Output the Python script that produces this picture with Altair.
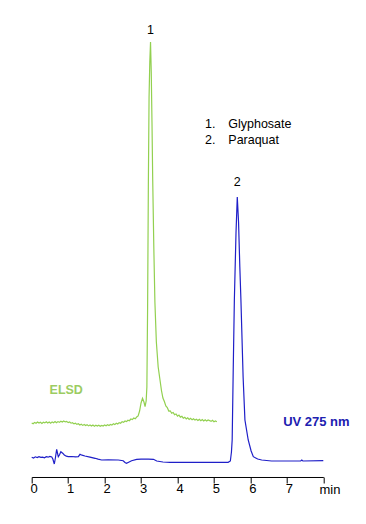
import altair as alt
import pandas as pd

# ELSD trace (time in min, detector response in arbitrary units)
elsd_t = [0.00, 0.04, 0.08, 0.12, 0.16, 0.20, 0.24, 0.28, 0.32, 0.36, 0.40, 0.44, 0.48, 0.52,
          0.56, 0.60, 0.64, 0.68, 0.72, 0.76, 0.80, 0.84, 0.88, 0.92, 0.96, 1.00, 1.04, 1.08,
          1.12, 1.16, 1.20, 1.24, 1.28, 1.32, 1.36, 1.40, 1.44, 1.48, 1.52, 1.56, 1.60, 1.64,
          1.68, 1.72, 1.76, 1.80, 1.84, 1.88, 1.92, 1.96, 2.00, 2.04, 2.08, 2.12, 2.16, 2.20,
          2.24, 2.28, 2.32, 2.36, 2.40, 2.44, 2.48, 2.52, 2.56, 2.60, 2.64, 2.68, 2.72, 2.76,
          2.80, 2.84, 2.88, 2.92, 2.96, 3.00, 3.04, 3.08, 3.11, 3.14, 3.16, 3.18, 3.20, 3.22,
          3.24, 3.26, 3.28, 3.30, 3.32, 3.35, 3.38, 3.42, 3.47, 3.52, 3.56, 3.60, 3.64, 3.68,
          3.72, 3.76, 3.80, 3.84, 3.88, 3.92, 3.96, 4.00, 4.04, 4.08, 4.12, 4.16, 4.20, 4.24,
          4.28, 4.32, 4.36, 4.40, 4.44, 4.48, 4.52, 4.56, 4.60, 4.64, 4.68, 4.72, 4.76, 4.80,
          4.84, 4.88, 4.92, 4.96, 5.00, 5.04, 5.08]
elsd_v = [54.0, 53.2, 54.6, 53.8, 55.0, 53.9, 54.8, 53.5, 54.7, 54.1, 55.2, 54.0, 54.9, 53.8,
          55.1, 54.3, 55.5, 54.2, 55.4, 54.6, 55.8, 54.9, 56.0, 55.1, 55.6, 54.4, 55.0, 53.8,
          54.3, 53.1, 53.7, 52.6, 53.2, 52.0, 52.7, 51.6, 52.5, 51.4, 52.2, 51.1, 52.0, 51.0,
          51.9, 50.8, 51.7, 50.9, 51.8, 50.7, 51.6, 50.9, 52.0, 51.2, 52.3, 51.5, 52.6, 51.9,
          53.2, 52.4, 53.7, 53.0, 54.4, 53.8, 55.3, 54.6, 56.0, 55.4, 56.8, 56.3, 58.0, 57.4,
          59.0, 58.2, 60.0, 61.0, 66.0, 74.0, 78.7, 75.0, 70.3, 76.0, 90.0, 170.0, 290.0, 380.0,
          415.0, 435.0, 405.0, 355.0, 297.0, 230.0, 175.0, 135.0, 110.0, 97.0, 86.5, 79.0, 75.5, 71.0,
          69.5, 66.0, 66.2, 63.8, 64.5, 62.3, 63.0, 60.8, 61.9, 59.9, 60.7, 58.8, 59.8, 58.1,
          59.2, 57.6, 58.7, 57.2, 58.3, 56.9, 57.8, 56.5, 57.6, 56.3, 57.4, 56.1, 57.2, 55.9,
          57.0, 56.4, 55.6, 56.7, 55.3, 56.1, 55.3]

# UV 275 nm trace
uv_t = [0.00, 0.05, 0.10, 0.15, 0.20, 0.25, 0.30, 0.35, 0.40, 0.45, 0.50, 0.55, 0.58, 0.62,
        0.65, 0.685, 0.71, 0.73, 0.76, 0.80, 0.85, 0.895, 0.95, 1.00, 1.10, 1.20, 1.28, 1.325,
        1.38, 1.46, 1.60, 1.74, 1.82, 1.92, 2.10, 2.375, 2.51, 2.56, 2.60, 2.66, 2.74, 2.88,
        3.00, 3.20, 3.34, 3.43, 3.60, 3.79, 4.20, 4.60, 5.00, 5.39, 5.45, 5.48, 5.50, 5.53,
        5.56, 5.605, 5.64, 5.675, 5.71, 5.74, 5.80, 5.85, 5.94, 6.02, 6.08, 6.20, 6.31, 6.58,
        7.00, 7.38, 7.41, 7.44, 8.00]
uv_v = [19.7, 19.0, 20.2, 19.5, 20.4, 19.6, 19.9, 19.2, 20.3, 19.8, 20.5, 20.0, 18.0, 13.0,
        19.0, 27.7, 23.5, 20.3, 22.0, 25.3, 23.8, 22.0, 20.8, 20.3, 20.5, 20.2, 20.3, 22.7,
        21.8, 21.0, 19.8, 18.7, 17.8, 17.0, 17.2, 17.0, 16.3, 14.5, 13.7, 14.8, 16.3, 17.7,
        17.8, 17.8, 17.7, 16.0, 15.0, 14.7, 14.7, 14.7, 14.7, 14.7, 16.0, 25.0, 37.0, 110.0,
        177.0, 244.0, 280.0, 255.0, 210.0, 177.0, 100.0, 57.0, 37.0, 26.0, 20.3, 18.0, 17.0, 16.0,
        16.0, 16.0, 17.0, 16.0, 16.3]

# Annotations
peak_labels = ["1", "2"]
peak_t = [3.26, 5.64]
peak_y = [447.0, 295.5]

legend_num = ["1.", "2."]
legend_name = ["Glyphosate", "Paraquat"]
legend_y = [353.0, 337.5]

x_ticks = [0, 1, 2, 3, 4, 5, 6, 7, 8]

FONT = "Liberation Sans"
GREEN = "#92d050"
BLUE = "#1f1fc8"

elsd_df = pd.DataFrame({"t": elsd_t, "v": elsd_v})
uv_df = pd.DataFrame({"t": uv_t, "v": uv_v})

xscale = alt.Scale(domain=[0, 8], nice=False, zero=False)
yscale = alt.Scale(domain=[0, 457], nice=False, zero=False)

xaxis = alt.Axis(values=x_ticks, labelExpr="datum.value == 8 ? '' : datum.label",
                 tickSize=6, tickColor="black", domainColor="black", domainWidth=1,
                 tickWidth=1, labelFont=FONT, labelFontSize=13, labelColor="black",
                 labelAlign="center", labelOffset=2, labelPadding=0, labelOverlap=False,
                 labelFlush=False, grid=False, title=None)

X = alt.X("t:Q", scale=xscale, axis=xaxis)
Y = alt.Y("v:Q", scale=yscale, axis=None)

elsd = alt.Chart(elsd_df).mark_line(color=GREEN, strokeWidth=1.2).encode(x=X, y=Y)
uv = alt.Chart(uv_df).mark_line(color=BLUE, strokeWidth=1.2).encode(x=X, y=Y)

peaks = alt.Chart(pd.DataFrame({"t": peak_t, "v": peak_y, "s": peak_labels})).mark_text(
    font=FONT, fontSize=12.5, color="black", align="center", baseline="middle"
).encode(x=X, y=Y, text="s:N")

leg_num = alt.Chart(pd.DataFrame({"t": [4.754, 4.754], "v": legend_y, "s": legend_num})).mark_text(
    font=FONT, fontSize=12.5, color="black", align="left", baseline="middle"
).encode(x=X, y=Y, text="s:N")

leg_name = alt.Chart(pd.DataFrame({"t": [5.394, 5.394], "v": legend_y, "s": legend_name})).mark_text(
    font=FONT, fontSize=12.5, color="black", align="left", baseline="middle"
).encode(x=X, y=Y, text="s:N")

elsd_lab = alt.Chart(pd.DataFrame({"t": [0.49], "v": [87.3], "s": ["ELSD"]})).mark_text(
    font=FONT, fontSize=12.5, fontWeight="bold", color="#9ccc62", align="left", baseline="middle"
).encode(x=X, y=Y, text="s:N")

uv_lab = alt.Chart(pd.DataFrame({"t": [6.90], "v": [55.3], "s": ["UV 275 nm"]})).mark_text(
    font=FONT, fontSize=13, fontWeight="bold", color="#2020b0", align="left", baseline="middle"
).encode(x=X, y=Y, text="s:N")

min_lab = alt.Chart(pd.DataFrame({"t": [8.0], "v": [0.0], "s": ["min"]})).mark_text(
    font=FONT, fontSize=13, color="black", align="center", baseline="alphabetic", dx=6.7, dy=17
).encode(x=X, y=Y, text="s:N")

chart = alt.layer(elsd, uv, peaks, leg_num, leg_name, elsd_lab, uv_lab, min_lab).properties(
    width=291.6, height=457,
    autosize=alt.AutoSizeParams(type="none"),
    padding={"left": 23.7, "top": 12, "right": 30, "bottom": 30},
    background="white",
).configure_view(stroke=None)

chart.save("out.html", embed_options={"renderer": "svg", "actions": False})
